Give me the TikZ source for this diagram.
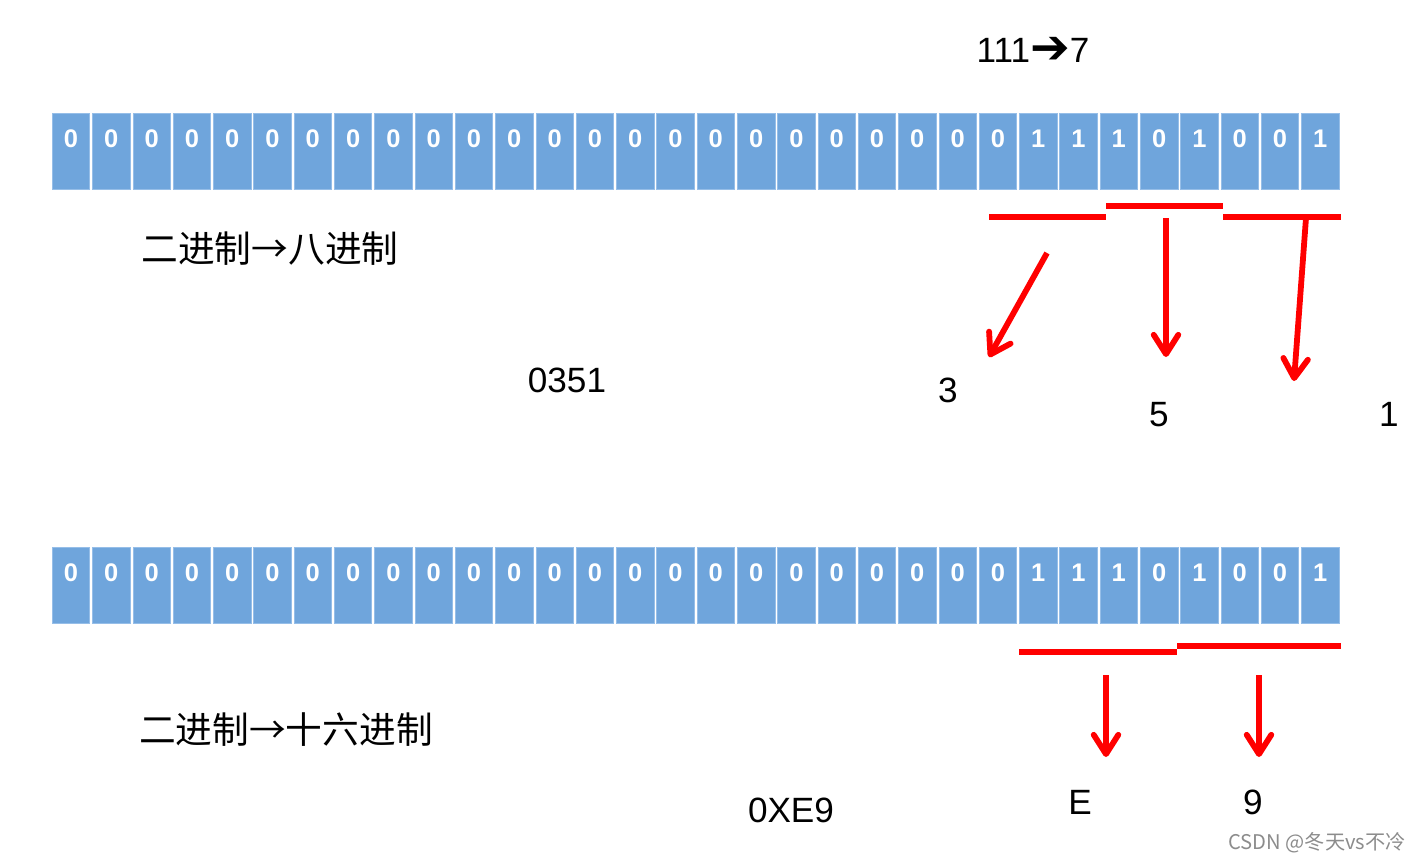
\documentclass[tikz,border=0pt]{standalone}
\usepackage{fontspec}
\setmainfont{Liberation Sans}
\newfontfamily\cjk{Noto Sans CJK SC}
\newfontfamily\symfont{DejaVu Sans}
\usepackage{xcolor}
\usepackage{tikz}
\usetikzlibrary{arrows.meta,positioning}
\definecolor{cellblue}{RGB}{111,165,220}
\definecolor{celledge}{RGB}{150,190,232}
\definecolor{markred}{RGB}{255,0,0}

\tikzset{
  cell/.style={draw=celledge, line width=0.4pt, fill=cellblue, text=white,
    font=\fontsize{14.5}{16}\selectfont\bfseries, minimum width=0.75cm,
    inner xsep=0pt, inner ysep=0pt, text height=0.68cm, text depth=0.84cm},
  numtext/.style={font=\fontsize{20}{24}\selectfont, inner sep=0pt},
  cjktext/.style={font=\cjk\fontsize{20.9}{24}\selectfont, inner sep=0pt},
  redbar/.style={markred, line width=3.4pt},
  redarrow/.style={markred, line width=3.3pt,
    -{Straight Barb[length=11pt, width=14pt, round]}}
}

\begin{document}
\begin{tikzpicture}[x=0.02cm, y=-0.02cm]
\useasboundingbox (0,0) rectangle (1418,863);

% bit cells, top row and bottom row
\foreach \b [count=\i] in {0,0,0,0,0,0,0,0,0,0,0,0,0,0,0,0,0,0,0,0,0,0,0,0,1,1,1,0,1,0,0,1} {
  \node[cell] (c\i) at ({71+(\i-1)*40.3},151) {\b};
  \node[cell] (d\i) at ({71+(\i-1)*40.3},585) {\b};
}

\node[numtext] (rule) at (1033,50) {111{\symfont\fontsize{27}{28}\selectfont\raisebox{-0.5pt}{➔}}7};

% binary -> octal
\node[cjktext] (octtitle) at (270,249) {二进制→八进制};
\draw[redbar] (989,216.7) -- (1106,216.7);
\draw[redbar] (1106,205.7) -- (1223,205.7);
\draw[redbar] (1223,216.7) -- (1341,216.7);

\coordinate (o1s) at (1047,253);
\coordinate (o1e) at (989,357);
\coordinate (o2s) at (1166,218);
\coordinate (o2e) at (1166,357);
\coordinate (o3s) at (1306,218);
\coordinate (o3e) at (1294,381);
\draw[redarrow] (o1s) -- (o1e);
\draw[redarrow] (o2s) -- (o2e);
\draw[redarrow] (o3s) -- (o3e);

\node[numtext] (oct3) at (948,390) {3};
\node[numtext] (oct5) at (1159,415) {5};
\node[numtext] (oct1) at (1389,414) {1};
\node[numtext] (octval) at (567,380) {0351};

% binary -> hex
\node[cjktext] (hextitle) at (286,730) {二进制→十六进制};
\draw[redbar] (1019,651.7) -- (1177,651.7);
\draw[redbar] (1177,646) -- (1341,646);

\coordinate (h1s) at (1106,675);
\coordinate (h1e) at (1106,757);
\coordinate (h2s) at (1259,675);
\coordinate (h2e) at (1259,757);
\draw[redarrow] (h1s) -- (h1e);
\draw[redarrow] (h2s) -- (h2e);

\node[numtext] (hexE) at (1080,802) {E};
\node[numtext] (hex9) at (1253,802) {9};
\node[numtext] (hexval) at (791,810) {0XE9};

\node[font=\cjk\fontsize{11.5}{13}\selectfont, text=black!45, inner sep=0pt] (mark) at (1317,843) {CSDN @冬天vs不冷};
\end{tikzpicture}
\end{document}
